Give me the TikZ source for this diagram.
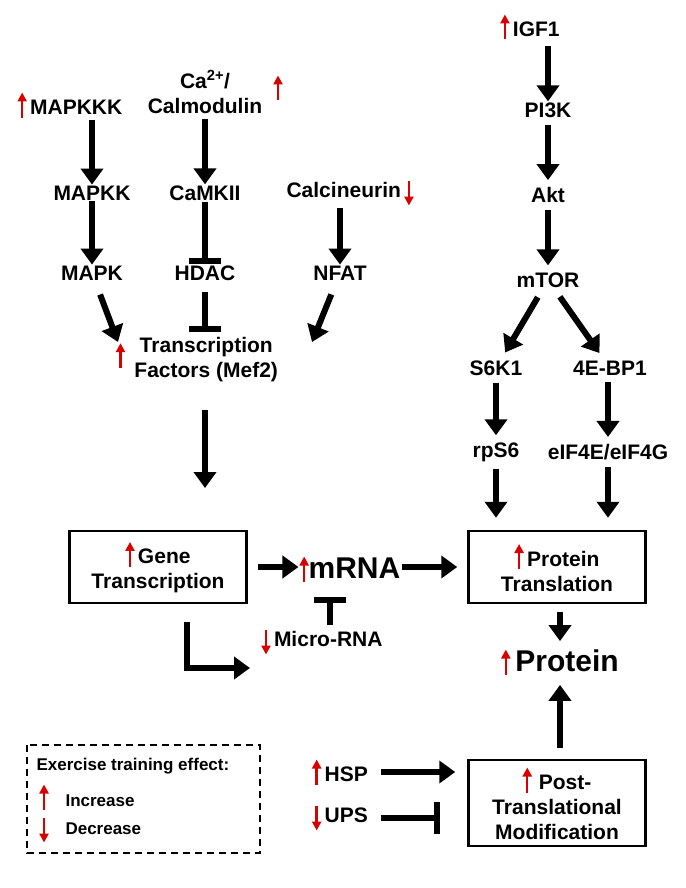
\documentclass[tikz,border=0pt]{standalone}
\usepackage{fontspec}
\setmainfont{Liberation Sans}
\usetikzlibrary{arrows.meta}
\newcommand{\incr}{\tikz[baseline=0pt]\draw[red!85!black,line width=2.4pt,-{Triangle[length=9pt,width=9pt]}] (0pt,-3pt)--(0pt,22pt);}
\newcommand{\decr}{\tikz[baseline=0pt]\draw[red!85!black,line width=2.4pt,-{Triangle[length=9pt,width=9pt]}] (0pt,17pt)--(0pt,-8pt);}

\begin{document}
\begin{tikzpicture}[x=1pt,y=-1pt,
  lbl/.style={font=\fontsize{21}{25}\selectfont\bfseries,align=center,inner sep=1pt},
  big/.style={font=\fontsize{30}{33}\selectfont\bfseries,inner sep=1pt},
  leg/.style={font=\fontsize{17}{19}\selectfont\bfseries,anchor=west},
  box/.style={lbl,draw,line width=2.5pt,minimum width=177pt,minimum height=72pt},
  act/.style={line width=6pt,-{Triangle[length=16pt,width=22pt]}},
  inh/.style={line width=6pt,-{Bar[width=32pt,line width=6pt]}}]
  \useasboundingbox (0,0) rectangle (685,888);

  % left branch
  \node[lbl] (mapkkk) at (70,105) {\incr\,MAPKKK};
  \node[lbl] (mapkk) at (92,193) {MAPKK};
  \node[lbl] (mapk) at (92,273) {MAPK};
  \node[lbl] (calm) at (205,92) {Ca\textsuperscript{2+}/\\Calmodulin};
  \node (calmup) at (278,88) {\incr};
  \node[lbl] (camk) at (205,193) {CaMKII};
  \node[lbl] (hdac) at (205,273) {HDAC};
  \node[lbl] (calcin) at (350,193) {Calcineurin\,\decr};
  \node[lbl] (nfat) at (340,273) {NFAT};
  \node[lbl] (tf) at (200,360) {\incr\,\begin{tabular}{c}Transcription\\Factors (Mef2)\end{tabular}};
  \node[box] (gene) at (158,567) {\incr\,Gene\\Transcription};
  \node[big] (mrna) at (350,569) {\incr mRNA};
  \node[lbl] (mirna) at (322,642) {\decr\,Micro-RNA};

  % right branch
  \node[lbl] (igf) at (530,27) {\incr\,IGF1};
  \node[lbl] (pi3k) at (548,110) {PI3K};
  \node[lbl] (akt) at (548,195) {Akt};
  \node[lbl] (mtor) at (548,280) {mTOR};
  \node[lbl] (s6k) at (496,368) {S6K1};
  \node[lbl] (ebp) at (610,368) {4E-BP1};
  \node[lbl] (rps) at (496,452) {rpS6};
  \node[lbl] (eif) at (608,452) {eIF4E/eIF4G};
  \node[box] (ptrans) at (557,567) {\incr\,Protein\\Translation};
  \node[big] (prot) at (560,662) {\incr\,Protein};
  \node[box,minimum height=86pt] (ptm) at (557,803) {\incr\,\,Post-\\Translational\\Modification};
  \node[lbl] (hsp) at (340,772) {\incr\,HSP};
  \node[lbl] (ups) at (340,818) {\decr\,UPS};

  % legend
  \draw[line width=2pt,dash pattern=on 7pt off 5pt] (27,745) rectangle (260,853);
  \node[leg] (legt) at (33,766) {Exercise training effect:};
  \node[leg] (inc) at (36,797) {\incr\quad Increase};
  \node[leg] (dec) at (36,830) {\decr\quad Decrease};

  % free ends
  \coordinate (tfl) at (118,342);
  \coordinate (tfm) at (205,332);
  \coordinate (tfr) at (312,342);
  \coordinate (tfb) at (205,410);
  \coordinate (genet) at (205,488);
  \coordinate (elbow) at (187,668);
  \coordinate (micl) at (250,668);
  \coordinate (micb) at (330,625);
  \coordinate (mrnab) at (330,597);
  \coordinate (ptransb) at (560,612);
  \coordinate (ptmt) at (560,748);
  \coordinate (ptml) at (440,820);

  \draw[act] (mapkkk.south -| mapkk) -- (mapkk);
  \draw[act] (mapkk) -- (mapk);
  \draw[act,shorten <=4pt] (calm.south -| camk) -- (camk);
  \draw[inh] (camk) -- (hdac);
  \draw[act] (calcin.south -| nfat) -- (nfat);
  \draw[act,shorten <=14pt] (mapk) -- (tfl);
  \draw[inh,shorten <=10pt] (hdac) -- (tfm);
  \draw[act,shorten <=14pt] (nfat) -- (tfr);
  \draw[act] (tfb) -- (genet);
  \draw[act,shorten <=10pt] (gene.east) -- (mrna.west |- gene.east);
  \draw[act,shorten >=10pt] (mrna.east |- ptrans.west) -- (ptrans.west);
  \draw[inh] (micb) -- (mrnab);
  \draw[line width=6pt,-{Triangle[length=16pt,width=22pt]}] (gene.south -| elbow) ++(0,18) -- (elbow) -- (micl);

  \draw[act,shorten <=4pt] (igf.south -| pi3k) -- (pi3k);
  \draw[act,shorten <=6pt,shorten >=6pt] (pi3k) -- (akt);
  \draw[act,shorten <=6pt,shorten >=6pt] (akt) -- (mtor);
  \draw[act,shorten <=10pt,shorten >=8pt] (mtor) -- (s6k);
  \draw[act,shorten <=10pt,shorten >=8pt] (mtor) -- (ebp);
  \draw[act,shorten <=6pt,shorten >=6pt] (s6k) -- (rps);
  \draw[act,shorten <=6pt,shorten >=6pt] (ebp.south -| eif) -- (eif);
  \draw[act,shorten <=6pt,shorten >=12pt] (rps) -- (rps |- ptrans.north);
  \draw[act,shorten <=6pt,shorten >=12pt] (eif) -- (eif |- ptrans.north);
  \draw[act,shorten >=6pt] (ptransb) -- (prot);
  \draw[act,shorten >=8pt] (ptmt) -- (prot);
  \draw[act,shorten <=12pt,shorten >=12pt] (hsp) -- (hsp -| ptm.west);
  \draw[inh,shorten <=12pt] (ups) -- (ups -| ptml);
\end{tikzpicture}
\end{document}
